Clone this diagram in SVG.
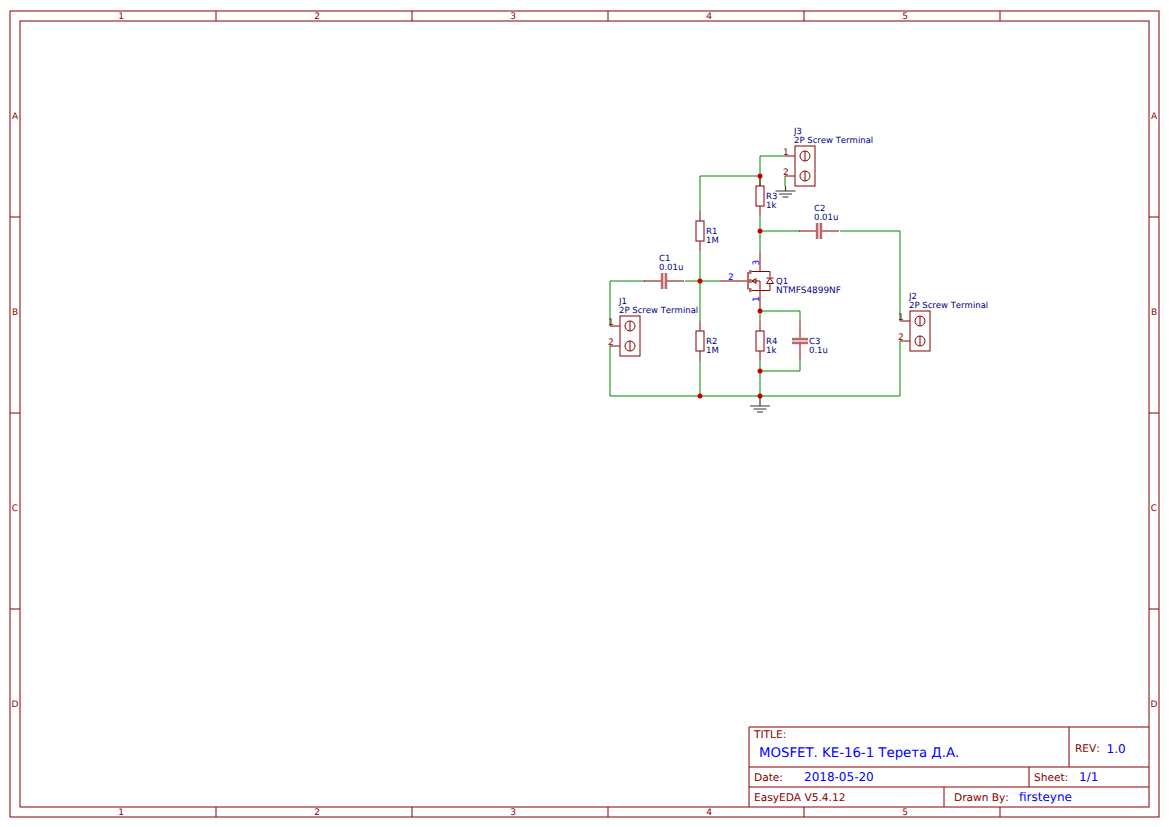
<svg xmlns="http://www.w3.org/2000/svg" width="1169" height="827" viewBox="0 0 1169 827">
<style>
text{font-family:"DejaVu Sans",Verdana,sans-serif;text-rendering:geometricPrecision;font-kerning:none}
.f{fill:none;stroke:#880000;stroke-width:1}
.w{fill:none;stroke:#008800;stroke-width:1}
.p{fill:none;stroke:#880000;stroke-width:1}
.b{fill:#b86a6a;stroke:none}
.g{fill:none;stroke:#333333;stroke-width:1.200}
.t{fill:#880000;font-size:9px;text-anchor:middle}
.l{fill:#880000;font-size:10.600px}
.v{fill:#0000ff;font-size:12px}
.n{fill:#000080;font-size:8.500px}
.pn{fill:#880000;font-size:9px}
.pb{fill:#0000ff;font-size:9px}
.j{fill:#cc0000}
</style>
<defs>
<g id="term"><rect class="p" x="0" y="0" width="20" height="40"/><circle class="p" cx="10" cy="10" r="5"/><path class="p" d="M10 5V15"/><circle class="p" cx="10" cy="30" r="5"/><path class="p" d="M10 25V35"/><path class="p" d="M0 10H-10M0 30H-10"/></g>
<g id="res"><path class="p" d="M0 -20V-10M0 10V20"/><rect class="p" x="-4" y="-10" width="8" height="20"/></g>
<g id="cap"><path class="p" d="M-20 0H-3M3 0H20"/><rect class="b" x="-3.200" y="-8" width="2.600" height="16"/><rect class="b" x="0.600" y="-8" width="2.600" height="16"/></g>
<g id="gnd"><path class="g" d="M0 0V5M-10 5H10M-6.500 8H6.500M-3 11H3"/></g>
</defs>
<g id="frame">
<rect class="f" x="10" y="11" width="1149" height="806"/>
<rect class="f" x="20" y="21" width="1129" height="786"/>
<path class="f" d="M216 11V21M412 11V21M608 11V21M804 11V21M1000 11V21M216 807V817M412 807V817M608 807V817M804 807V817M1000 807V817M10 217H20M10 413H20M10 609H20M1149 217H1159M1149 413H1159M1149 609H1159"/>
<text class="t" x="121" y="19">1</text><text class="t" x="317" y="19">2</text><text class="t" x="513" y="19">3</text><text class="t" x="709" y="19">4</text><text class="t" x="905" y="19">5</text>
<text class="t" x="121" y="815">1</text><text class="t" x="317" y="815">2</text><text class="t" x="513" y="815">3</text><text class="t" x="709" y="815">4</text><text class="t" x="905" y="815">5</text>
<text class="t" x="15" y="119">A</text><text class="t" x="15" y="315">B</text><text class="t" x="15" y="511">C</text><text class="t" x="15" y="707">D</text>
<text class="t" x="1154" y="119">A</text><text class="t" x="1154" y="315">B</text><text class="t" x="1154" y="511">C</text><text class="t" x="1154" y="707">D</text>
</g>
<g id="titleblock">
<path class="f" d="M749 807V727H1149M749 767H1149M749 787H1149M1069 727V767M1029 767V787M944 787V807"/>
<text class="l" x="754" y="738">TITLE:</text>
<text class="v" x="759" y="757" style="font-size:13.300px">MOSFET. KE-16-1 Терета Д.А.</text>
<text class="l" x="1075" y="752">REV:</text><text class="v" x="1106.500" y="753">1.0</text>
<text class="l" x="754" y="781">Date:</text><text class="v" x="804" y="781">2018-05-20</text>
<text class="l" x="1034" y="781">Sheet:</text><text class="v" x="1079" y="781">1/1</text>
<text class="l" x="754" y="801">EasyEDA V5.4.12</text>
<text class="l" x="954" y="801">Drawn By:</text><text class="v" x="1019" y="801">firsteyne</text>
</g>
<g id="connectors">
<path class="w" d="M785 156H760V176M785 176V186M700 211V176H760V186M760 216V251M760 231H800M840 231H900V321M900 341V396M610 396H900M610 346V396M610 326V281H645M685 281H720M700 251V321M700 361V396M760 311H800V321M800 361V371H760M760 311V321M760 361V396"/>
<circle class="j" cx="760" cy="176" r="2.500"/><circle class="j" cx="760" cy="231" r="2.500"/><circle class="j" cx="700" cy="281" r="2.500"/><circle class="j" cx="760" cy="311" r="2.500"/><circle class="j" cx="760" cy="371" r="2.500"/><circle class="j" cx="700" cy="396" r="2.500"/><circle class="j" cx="760" cy="396" r="2.500"/>
</g>
<g id="J3"><use href="#term" x="795" y="146"/><text class="n" x="794" y="134">J3</text><text class="n" x="794" y="143">2P Screw Terminal</text><text class="pn" x="783" y="155">1</text><text class="pn" x="783" y="175">2</text></g>
<g id="GND1"><use href="#gnd" x="785.500" y="186"/></g>
<g id="R3"><use href="#res" x="760" y="196"/><text class="n" x="766" y="199">R3</text><text class="n" x="766" y="208">1k</text></g>
<g id="C2"><use href="#cap" x="819" y="231"/><text class="n" x="814" y="211">C2</text><text class="n" x="814" y="220">0.01u</text></g>
<g id="R1"><use href="#res" x="700" y="231"/><text class="n" x="706" y="234">R1</text><text class="n" x="706" y="243">1M</text></g>
<g id="R2"><use href="#res" x="700" y="341"/><text class="n" x="706" y="344">R2</text><text class="n" x="706" y="353">1M</text></g>
<g id="R4"><use href="#res" x="760" y="341"/><text class="n" x="766" y="344">R4</text><text class="n" x="766" y="353">1k</text></g>
<g id="C1"><use href="#cap" x="664" y="281"/><text class="n" x="659" y="261">C1</text><text class="n" x="659" y="270">0.01u</text></g>
<g id="C3"><use href="#cap" transform="translate(800 341) rotate(90)"/><text class="n" x="809" y="344">C3</text><text class="n" x="809" y="353">0.1u</text></g>
<g id="J1"><use href="#term" x="620" y="316"/><text class="n" x="619" y="304">J1</text><text class="n" x="619" y="313">2P Screw Terminal</text><text class="pn" x="608" y="325">1</text><text class="pn" x="608" y="345">2</text></g>
<g id="J2"><use href="#term" x="910" y="311"/><text class="n" x="909" y="299">J2</text><text class="n" x="909" y="308">2P Screw Terminal</text><text class="pn" x="898" y="320">1</text><text class="pn" x="898" y="340">2</text></g>
<g id="Q1">
<path class="p" d="M720 281H748M760 251V271.500M760 290.500V311M750 271.500H770V277M750 290.500H770V284M750 281H760V290.500"/>
<path class="p" d="M756 278.500L752 281L756 283.500Z" fill="#880000"/>
<rect class="b" x="747" y="272" width="2" height="17.500"/>
<rect class="b" x="749" y="270" width="2.500" height="4"/><rect class="b" x="749" y="279" width="2.500" height="4"/><rect class="b" x="749" y="288" width="2.500" height="4"/>
<path class="p" d="M766.500 278H773.500M770 278L766.500 283.500H773.500Z"/>
<text class="pb" x="728" y="280">2</text>
<text class="pb" transform="translate(759 265.500) rotate(-90)">3</text>
<text class="pb" transform="translate(759 302) rotate(-90)">1</text>
<text class="n" x="776" y="284">Q1</text><text class="n" x="776" y="293" style="font-size:8.900px">NTMFS4899NF</text>
</g>
<g id="GND2"><use href="#gnd" x="760" y="401"/><path class="g" d="M760 396V401"/></g>
</svg>
